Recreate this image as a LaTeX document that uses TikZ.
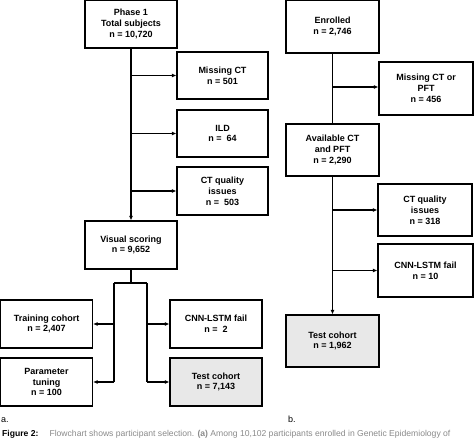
\documentclass[tikz,border=0pt]{standalone}
\usepackage{fontspec}
\setmainfont{Liberation Sans}
\usetikzlibrary{arrows.meta}
\definecolor{testgray}{HTML}{E8E8E8}
\definecolor{capgray}{HTML}{8A8A8A}
\tikzset{
  box/.style={draw=black, line width=1.1pt, fill=white, align=center,
    font=\bfseries\fontsize{9}{10.8}\selectfont, inner sep=1pt},
  graybox/.style={box, fill=testgray},
  conn/.style={line width=1.1pt},
  arr/.style={conn, -{Latex[length=4.5pt,width=4pt]}},
  lbl/.style={font=\fontsize{9}{10}\selectfont, inner sep=0pt}
}
\begin{document}
\begin{tikzpicture}[x=1pt,y=-1pt]
\useasboundingbox (0,0) rectangle (474,438);
% ---------- panel a ----------
\node[box, minimum width=92pt, minimum height=48pt] (p1) at (131,24) {Phase 1\\Total subjects\\n = 10,720};
\node[box, minimum width=91pt, minimum height=47pt] (mct) at (222.5,75.5) {Missing CT\\n = 501};
\node[box, minimum width=91pt, minimum height=47pt] (ild) at (222.5,133.5) {ILD\\n = \ 64};
\node[box, minimum width=91pt, minimum height=48pt] (ctq) at (222.5,191) {CT quality\\issues\\n = \ 503};
\node[box, minimum width=92pt, minimum height=48pt] (vis) at (131,245) {Visual scoring\\n = 9,652};
\node[box, minimum width=92pt, minimum height=48pt] (train) at (46.5,324) {Training cohort\\n = 2,407};
\node[box, minimum width=92pt, minimum height=48pt] (param) at (46.5,382) {Parameter\\tuning\\n = 100};
\node[box, minimum width=92pt, minimum height=48pt] (cnn) at (216,324) {CNN-LSTM fail\\n = \ 2};
\node[graybox, minimum width=92pt, minimum height=48pt] (test) at (216,382) {Test cohort\\n = 7,143};

\draw[arr] (p1.south) -- (vis.north);
\draw[arr] (p1.south |- mct.west) -- (mct.west);
\draw[arr] (p1.south |- ild.west) -- (ild.west);
\draw[arr] (p1.south |- ctq.west) -- (ctq.west);

\coordinate (sL) at (114,283);
\coordinate (sR) at (147,283);
\draw[conn] (vis.south) -- (vis.south |- sL);
\draw[conn] (sL) -- (sR);
\draw[conn] (sL) -- (sL |- param.east);
\draw[conn] (sR) -- (sR |- test.west);
\draw[arr] (sL |- train.east) -- (train.east);
\draw[arr] (sL |- param.east) -- (param.east);
\draw[arr] (sR |- cnn.west) -- (cnn.west);
\draw[arr] (sR |- test.west) -- (test.west);

% ---------- panel b ----------
\node[box, minimum width=93pt, minimum height=53pt] (enr) at (332.5,26.5) {Enrolled\\n = 2,746};
\node[box, minimum width=94pt, minimum height=53pt] (mpft) at (426,88.5) {Missing CT or\\PFT\\n = 456};
\node[box, minimum width=93pt, minimum height=52pt] (avail) at (332.5,150) {Available CT\\and PFT\\n = 2,290};
\node[box, minimum width=94pt, minimum height=52pt] (ctq2) at (425,210) {CT quality\\issues\\n = 318};
\node[box, minimum width=95pt, minimum height=53pt] (cnn2) at (425.5,270.5) {CNN-LSTM fail\\n = 10};
\node[graybox, minimum width=93pt, minimum height=52pt] (test2) at (332.5,341) {Test cohort\\n = 1,962};

\coordinate (b1) at (333,87);
\draw[conn] (enr.south) -- (avail.north);
\draw[arr] (enr.south |- b1) -- (b1 -| mpft.west);
\draw[arr] (avail.south) -- (test2.north);
\draw[arr] (avail.south |- ctq2.west) -- (ctq2.west);
\draw[arr] (avail.south |- cnn2.west) -- (cnn2.west);

% ---------- labels ----------
\node[lbl, anchor=base west] (la) at (1,422) {a.};
\node[lbl, anchor=base west] (lb) at (288,422) {b.};
\node[anchor=base west, inner sep=0pt, font=\fontsize{8.6}{10}\selectfont] (cap) at (2,436)
  {\textbf{Figure 2:}\hspace{11pt}\textcolor{capgray}{Flowchart shows participant selection. \textbf{(a)} Among 10,102 participants enrolled in Genetic Epidemiology of}};
\end{tikzpicture}
\end{document}
